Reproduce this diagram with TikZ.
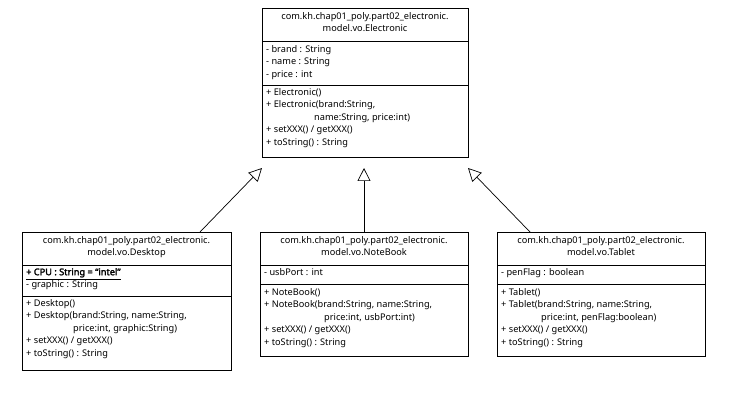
\documentclass[tikz,border=0pt]{standalone}
\usepackage{fontspec}
\setmainfont{Noto Sans}[AutoFakeBold=2.5]
\usetikzlibrary{arrows.meta,calc}
\begin{document}
\begin{tikzpicture}[x=1pt,y=-1pt,
 box/.style={draw,line width=0.8pt,anchor=north west,inner sep=0pt},
 sep/.style={line width=0.6pt},
 t/.style={anchor=north west,inner sep=0pt,font=\fontsize{9.2}{12.6}\selectfont,align=left},
 h/.style={anchor=north,inner sep=0pt,font=\fontsize{9.2}{12.6}\selectfont,align=center},
 inh/.style={line width=0.7pt,-{Triangle[open,length=13pt,width=13pt]}}]
\useasboundingbox (0,0) rectangle (739,403);
% top
\node[box,minimum width=206,minimum height=149] (E) at (262,8) {};
\draw[sep] (262,41) -- (468,41); \draw[sep] (262,85) -- (468,85);
\node[h] (Eh) at (365,12) {com.kh.chap01\_poly.part02\_electronic.\\model.vo.Electronic};
\node[t] (Ea) at (266,45) {- brand : String\\- name : String\\- price : int};
\node[t] (Em) at (266,88) {+ Electronic()\\+ Electronic(brand:String,\\\hspace*{48pt}name:String, price:int)\\+ setXXX() / getXXX()\\+ toString() : String};
% desktop
\node[box,minimum width=209,minimum height=138] (D) at (22,232) {};
\draw[sep] (22,265) -- (231,265); \draw[sep] (22,296) -- (231,296);
\node[h] (Dh) at (126.5,236) {com.kh.chap01\_poly.part02\_electronic.\\model.vo.Desktop};
\node[t] (Da) at (26,268) {\underline{\textbf{+ CPU : String = “intel”}}\\- graphic : String};
\node[t] (Dm) at (26,299) {+ Desktop()\\+ Desktop(brand:String, name:String,\\\hspace*{47pt}price:int, graphic:String)\\+ setXXX() / getXXX()\\+ toString() : String};
% notebook
\node[box,minimum width=208,minimum height=124] (N) at (260,232) {};
\draw[sep] (260,265) -- (468,265); \draw[sep] (260,284) -- (468,284);
\node[h] (Nh) at (364,236) {com.kh.chap01\_poly.part02\_electronic.\\model.vo.NoteBook};
\node[t] (Na) at (264,268) {- usbPort : int};
\node[t] (Nm) at (264,288) {+ NoteBook()\\+ NoteBook(brand:String, name:String,\\\hspace*{60pt}price:int, usbPort:int)\\+ setXXX() / getXXX()\\+ toString() : String};
% tablet
\node[box,minimum width=208,minimum height=124] (T) at (497,232) {};
\draw[sep] (497,265) -- (705,265); \draw[sep] (497,284) -- (705,284);
\node[h] (Th) at (601,236) {com.kh.chap01\_poly.part02\_electronic.\\model.vo.Tablet};
\node[t] (Ta) at (501,268) {- penFlag : boolean};
\node[t] (Tm) at (501,288) {+ Tablet()\\+ Tablet(brand:String, name:String,\\\hspace*{40pt}price:int, penFlag:boolean)\\+ setXXX() / getXXX()\\+ toString() : String};
% arrows
\coordinate (d0) at (200,232); \coordinate (d1) at (262,168);
\coordinate (n0) at (364,232); \coordinate (n1) at (364,168);
\coordinate (t0) at (530,232); \coordinate (t1) at (468,168);
\draw[inh] (d0) -- (d1);
\draw[inh] (n0) -- (n1);
\draw[inh] (t0) -- (t1);
\end{tikzpicture}
\end{document}
